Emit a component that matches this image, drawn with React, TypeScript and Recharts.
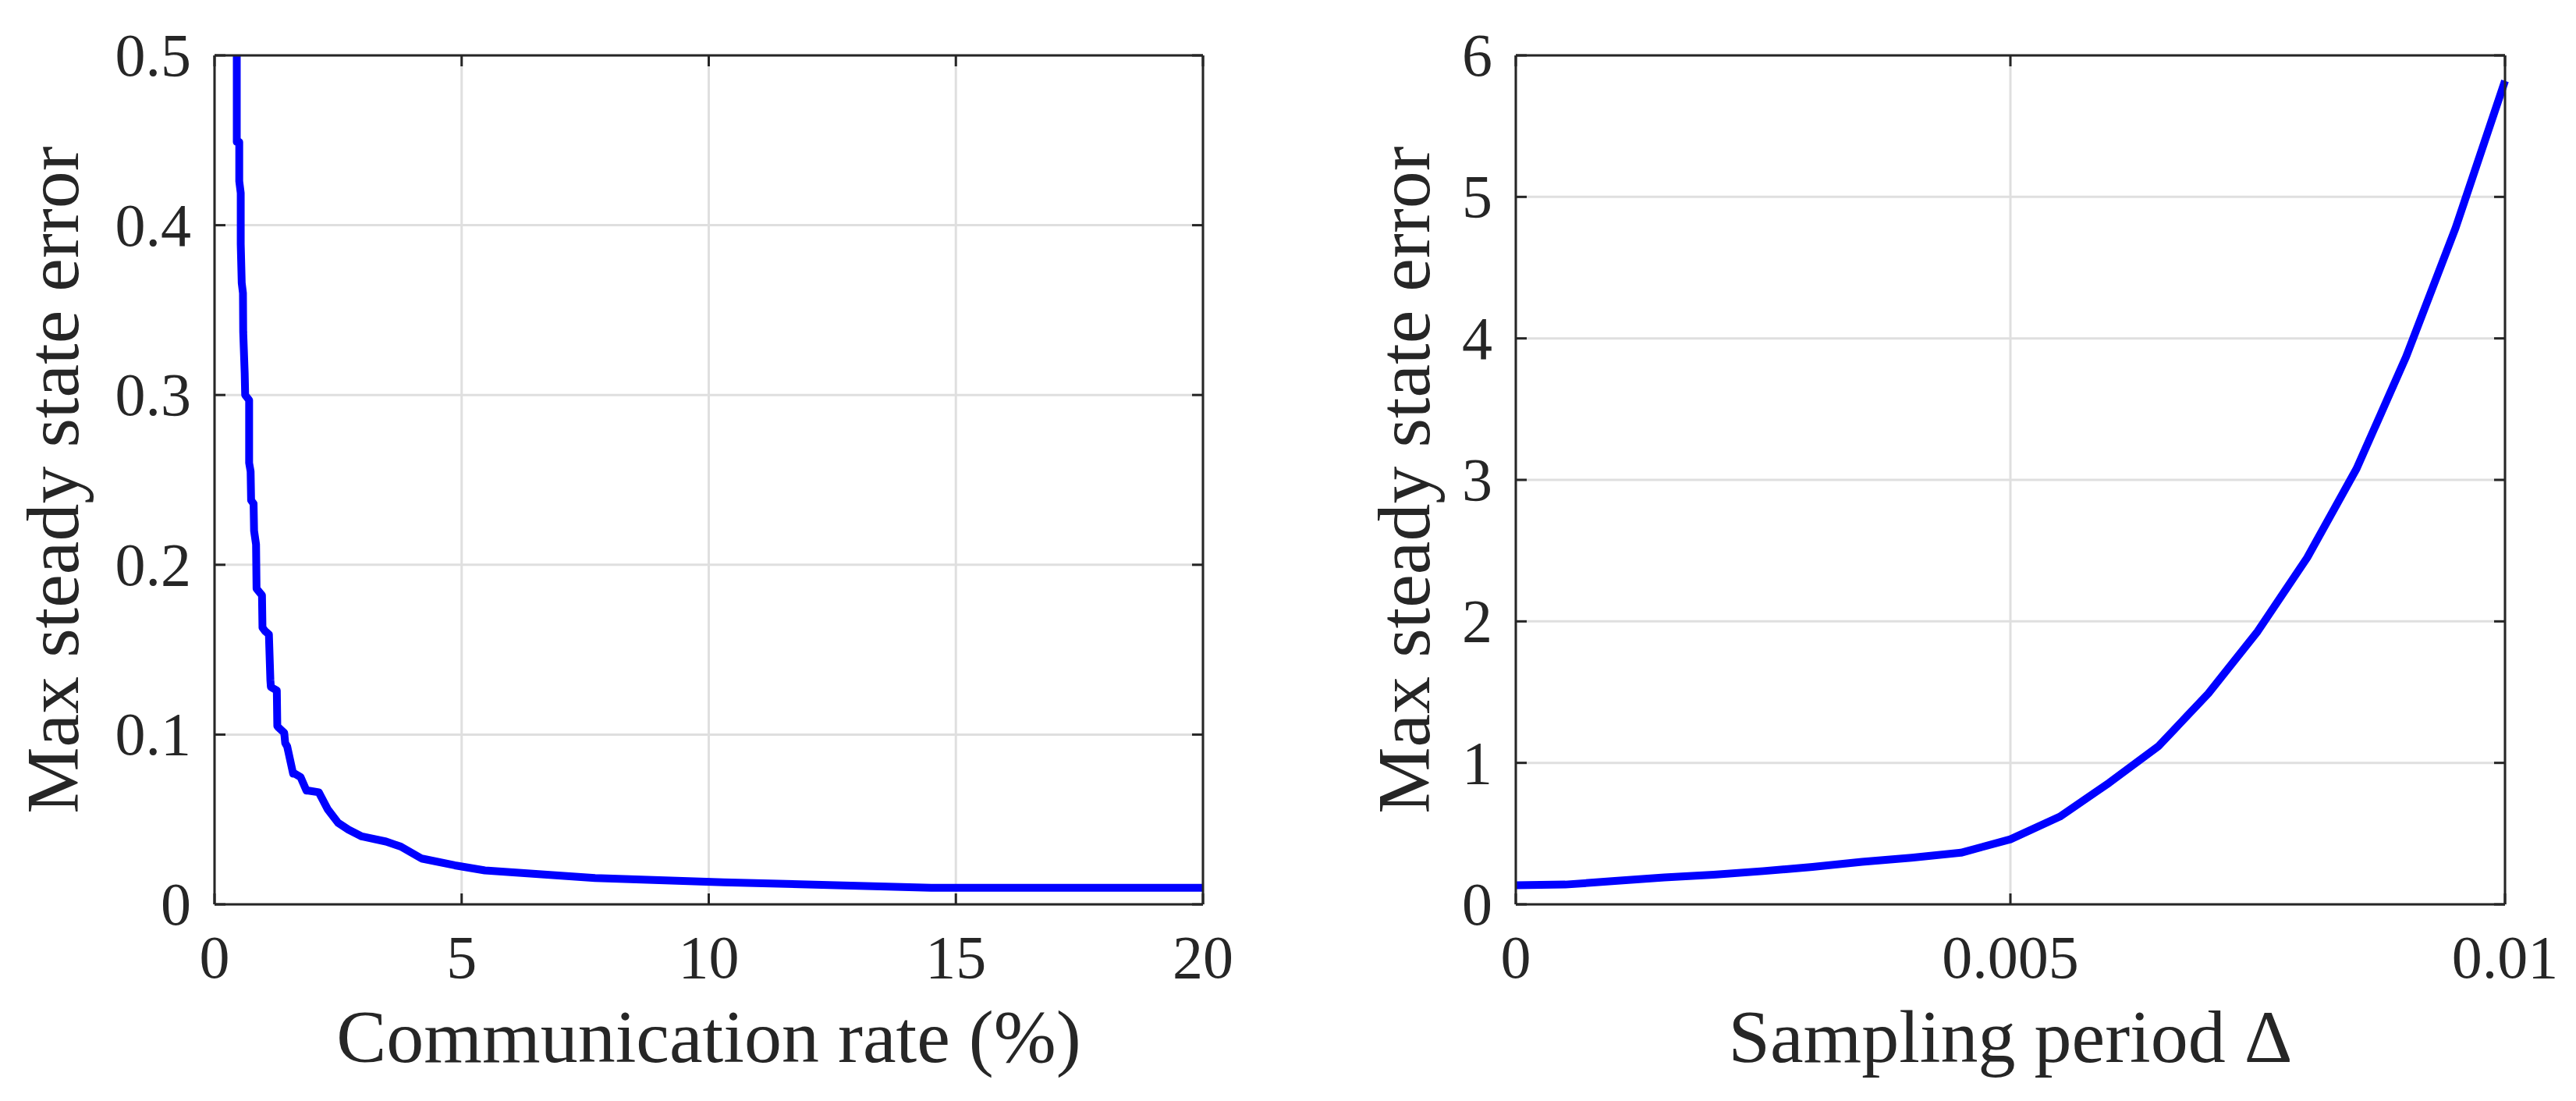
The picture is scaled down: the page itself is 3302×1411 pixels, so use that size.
import { LineChart, Line, XAxis, YAxis, CartesianGrid, Label } from "recharts"

// left panel: error vs communication rate (%)
const rateX = [
  0.44, 0.45, 0.45, 0.5, 0.5, 0.53, 0.53, 0.55, 0.575, 0.58, 0.61, 0.62, 0.7, 0.7, 0.73, 0.74, 0.79,
  0.8, 0.84, 0.85, 0.96, 0.97, 1.02, 1.1, 1.13, 1.14, 1.26, 1.27, 1.3, 1.41, 1.43, 1.47, 1.59, 1.62,
  1.74, 1.86, 1.9, 2.11, 2.29, 2.5, 2.71, 2.98, 3.47, 3.77, 4.19, 4.86, 5.47, 7.7, 10.3, 14.5, 20,
]
const rateErr = [
  0.52, 0.5, 0.449, 0.449, 0.426, 0.419, 0.389, 0.366, 0.36, 0.337, 0.313, 0.3, 0.297, 0.26, 0.255,
  0.238, 0.236, 0.22, 0.212, 0.186, 0.182, 0.163, 0.161, 0.159, 0.132, 0.128, 0.126, 0.105, 0.104,
  0.101, 0.095, 0.093, 0.077, 0.077, 0.075, 0.067, 0.067, 0.066, 0.056, 0.048, 0.044, 0.04, 0.037,
  0.034, 0.027, 0.023, 0.02, 0.0155, 0.013, 0.0098, 0.0098,
]
const rateTicks = [0, 5, 10, 15, 20]
const rateErrTicks = [0, 0.1, 0.2, 0.3, 0.4, 0.5]

// right panel: error vs sampling period
const periodX = [
  0, 0.0005, 0.001, 0.0015, 0.002, 0.0025, 0.003, 0.0035, 0.004, 0.0045, 0.005, 0.0055, 0.006,
  0.0065, 0.007, 0.0075, 0.008, 0.0085, 0.009, 0.0095, 0.01,
]
const periodErr = [
  0.135, 0.14, 0.165, 0.19, 0.21, 0.235, 0.265, 0.3, 0.33, 0.365, 0.46, 0.62, 0.86, 1.12, 1.49,
  1.93, 2.45, 3.08, 3.87, 4.78, 5.82,
]
const periodTicks = [0, 0.005, 0.01]
const periodErrTicks = [0, 1, 2, 3, 4, 5, 6]

const INK = "#262626"
const GRID = "#dfdfdf"
const FONT = "Liberation Serif"
const TICK_LEN = 14
const TICK_FONT = 78
const LABEL_FONT = 96

const rateData = rateX.map((x, i) => ({ x, y: rateErr[i] }))
const periodData = periodX.map((x, i) => ({ x, y: periodErr[i] }))

function BottomTick(props: any) {
  const { x, y, payload } = props
  return (
    <g>
      <line x1={x} x2={x} y1={y} y2={y - TICK_LEN} stroke={INK} strokeWidth={3} />
      <text x={x} y={y + 94} textAnchor="middle" fontSize={TICK_FONT} fill={INK} fontFamily={FONT}>
        {String(payload.value)}
      </text>
    </g>
  )
}

function LeftTick(props: any) {
  const { x, y, payload } = props
  return (
    <g>
      <line x1={x} x2={x + TICK_LEN} y1={y} y2={y} stroke={INK} strokeWidth={3} />
      <text x={x - 30} y={y + 26} textAnchor="end" fontSize={TICK_FONT} fill={INK} fontFamily={FONT}>
        {String(payload.value)}
      </text>
    </g>
  )
}

function TopTick(props: any) {
  const { x, y } = props
  return <line x1={x} x2={x} y1={y} y2={y + TICK_LEN} stroke={INK} strokeWidth={3} />
}

function RightTick(props: any) {
  const { x, y } = props
  return <line x1={x} x2={x - TICK_LEN} y1={y} y2={y} stroke={INK} strokeWidth={3} />
}

type PanelProps = {
  width: number
  data: { x: number; y: number }[]
  xTicks: number[]
  yTicks: number[]
  xLabel: string
  yLabel: string
  marginLeft: number
  marginRight: number
  yLabelShift: number
}

function Panel({ width, data, xTicks, yTicks, xLabel, yLabel, marginLeft, marginRight, yLabelShift }: PanelProps) {
  const xDomain = [xTicks[0], xTicks[xTicks.length - 1]]
  const yDomain = [yTicks[0], yTicks[yTicks.length - 1]]
  const axisLine = { stroke: INK, strokeWidth: 3 }
  return (
    <LineChart
      width={width}
      height={1411}
      data={data}
      margin={{ top: 11, left: marginLeft, right: marginRight, bottom: 192 }}
    >
      <CartesianGrid stroke={GRID} strokeWidth={3} />
      <XAxis
        dataKey="x"
        type="number"
        domain={xDomain}
        ticks={xTicks}
        interval={0}
        height={60}
        axisLine={axisLine}
        tickLine={false}
        tickSize={0}
        tickMargin={0}
        tick={<BottomTick />}
      >
        <Label
          content={(p: any) => {
            const vb = p.viewBox
            return (
              <text
                x={vb.x + vb.width / 2}
                y={vb.y + 202}
                textAnchor="middle"
                fontSize={LABEL_FONT}
                fill={INK}
                fontFamily={FONT}
              >
                {xLabel}
              </text>
            )
          }}
        />
      </XAxis>
      <XAxis
        xAxisId="top"
        orientation="top"
        dataKey="x"
        type="number"
        domain={xDomain}
        ticks={xTicks}
        interval={0}
        height={60}
        axisLine={axisLine}
        tickLine={false}
        tickSize={0}
        tickMargin={0}
        tick={<TopTick />}
      />
      <YAxis
        type="number"
        domain={yDomain}
        ticks={yTicks}
        interval={0}
        width={60}
        allowDataOverflow
        axisLine={axisLine}
        tickLine={false}
        tickSize={0}
        tickMargin={0}
        tick={<LeftTick />}
      >
        <Label
          content={(p: any) => {
            const vb = p.viewBox
            const cx = vb.x + vb.width + yLabelShift
            const cy = vb.y + vb.height / 2
            return (
              <text
                x={cx}
                y={cy}
                transform={`rotate(-90, ${cx}, ${cy})`}
                textAnchor="middle"
                fontSize={LABEL_FONT}
                fill={INK}
                fontFamily={FONT}
              >
                {yLabel}
              </text>
            )
          }}
        />
      </YAxis>
      <YAxis
        yAxisId="right"
        orientation="right"
        type="number"
        domain={yDomain}
        ticks={yTicks}
        interval={0}
        width={60}
        allowDataOverflow
        axisLine={axisLine}
        tickLine={false}
        tickSize={0}
        tickMargin={0}
        tick={<RightTick />}
      />
      <Line
        dataKey="y"
        type="linear"
        stroke="#0000ff"
        strokeWidth={10}
        strokeLinejoin="round"
        dot={false}
        activeDot={false}
        isAnimationActive={false}
      />
    </LineChart>
  )
}

export default function App() {
  return (
    <div style={{ position: "absolute", left: 0, top: 0, width: 3302, height: 1411, background: "#fff", fontFamily: FONT }}>
      <div style={{ position: "absolute", left: 0, top: 0 }}>
        <Panel
          width={1700}
          data={rateData}
          xTicks={rateTicks}
          yTicks={rateErrTicks}
          xLabel="Communication rate (%)"
          yLabel="Max steady state error"
          marginLeft={215}
          marginRight={98}
          yLabelShift={-175}
        />
      </div>
      <div style={{ position: "absolute", left: 1700, top: 0 }}>
        <Panel
          width={1602}
          data={periodData}
          xTicks={periodTicks}
          yTicks={periodErrTicks}
          xLabel="Sampling period Δ"
          yLabel="Max steady state error"
          marginLeft={183}
          marginRight={31}
          yLabelShift={-111}
        />
      </div>
    </div>
  )
}
